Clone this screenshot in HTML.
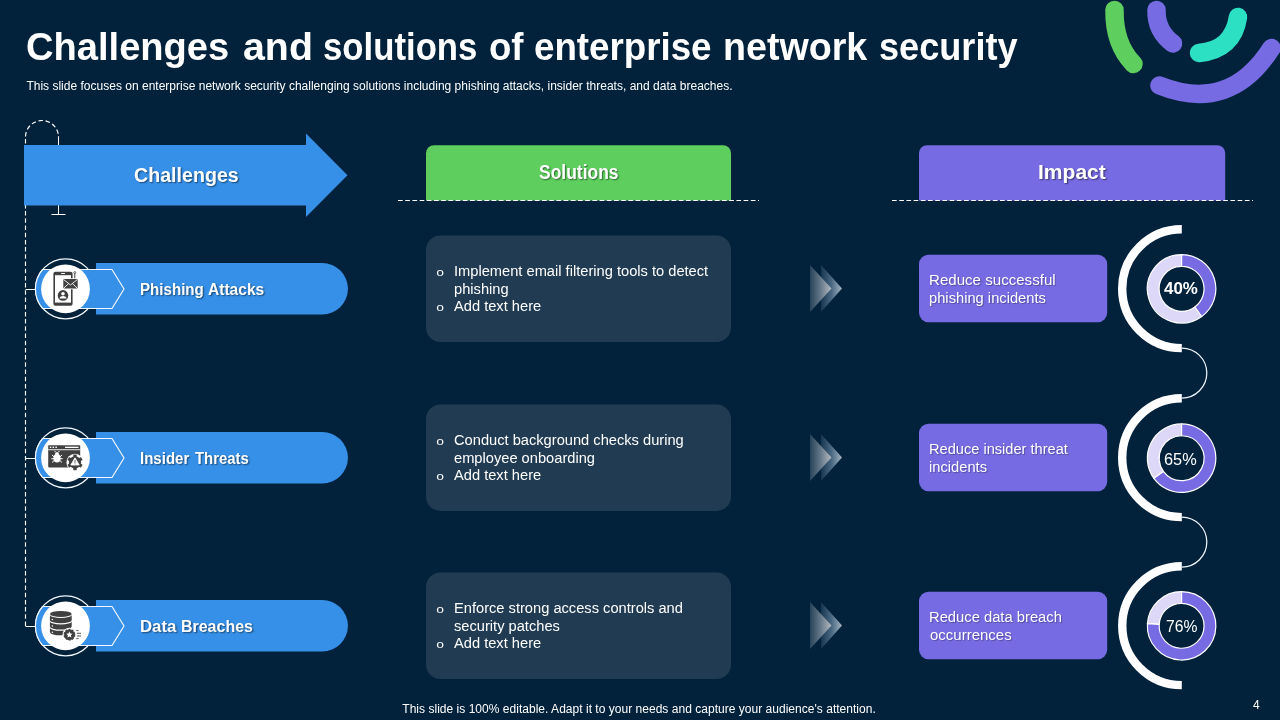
<!DOCTYPE html>
<html lang="en">
<head>
<meta charset="utf-8">
<title>Challenges and solutions of enterprise network security</title>
<style>
html,body{margin:0;padding:0;}
html{background:#02223b;}
body{will-change:transform;width:1280px;height:720px;overflow:hidden;background:#02223b;font-family:"Liberation Sans",sans-serif;color:#fff;position:relative;}
#shapes{position:absolute;left:0;top:0;width:1280px;height:720px;}
.t{position:absolute;white-space:nowrap;line-height:1;}
h1{margin:0;font-size:37px;font-weight:bold;line-height:1;}
.w{position:absolute;display:block;white-space:nowrap;line-height:1;font-weight:bold;transform-origin:0 0;}
.sub{left:26.400px;top:79px;font-size:12px;line-height:14px;letter-spacing:0.008px;}
.hd{text-shadow:1.200px 1.200px 1.500px rgba(0,0,0,.5);}
.sol{position:absolute;left:436px;width:290px;font-size:14.67px;line-height:17.5px;margin:0;padding:0;list-style:none;}
.sol li{position:relative;padding-left:18px;}
.sol li::before{content:"o";position:absolute;left:-0.500px;top:2.300px;font-family:"Liberation Mono",monospace;font-size:11px;transform:scaleX(1.250);transform-origin:0 0;}
.imp{text-shadow:1px 1px 1px rgba(0,0,0,.3);}
.pct{margin:0;}
.foot{left:402.300px;top:702px;font-size:12px;line-height:14px;letter-spacing:0.025px;}
.pg{left:1253px;top:698px;font-size:12px;line-height:14px;}
</style>
</head>
<body>
<svg id="shapes" width="1280" height="720" viewBox="0 0 1280 720">
<defs>
<linearGradient id="cg" x1="0" y1="0" x2="1" y2="0">
<stop offset="0" stop-color="#27435a"/>
<stop offset="0.5" stop-color="#66798a"/>
<stop offset="1" stop-color="#b6bcc2"/>
</linearGradient>
<linearGradient id="cg2" x1="0" y1="0" x2="1" y2="0">
<stop offset="0" stop-color="#16364f"/>
<stop offset="0.5" stop-color="#4a6881"/>
<stop offset="1" stop-color="#a3b3c2"/>
</linearGradient>
</defs>
<g fill="none" stroke-linecap="round" stroke-width="18.5">
<path d="M1114.500 10 Q1114 44 1133.500 64" stroke="#5ecf5e"/>
<path d="M1156.500 10 Q1156 31 1173 43.500" stroke="#776be3"/>
<path d="M1238 17 Q1233 50 1199 53" stroke="#2ce0c4"/>
<path d="M1159.500 85.500 Q1230 113.500 1271.500 48" stroke="#776be3"/>
</g>
<g fill="none" stroke="#ffffff" stroke-width="1">
<path d="M25.500 626 V137 A16.500 16.500 0 0 1 58.500 137" stroke-dasharray="4.500 2.700" stroke-width="1.150"/>
<path d="M58.500 136.500 V214 M51.500 214.500 H65.500"/>
</g>
<path d="M24 145 H306 V133.500 L347.500 175.250 L306 217 V205.500 H24 Z" fill="#3690e8"/>
<path d="M426 200.500 V153.200 a8 8 0 0 1 8 -8 H723 a8 8 0 0 1 8 8 V200.500 Z" fill="#5ecf5e"/>
<path d="M919 200.500 V153.200 a8 8 0 0 1 8 -8 H1217.200 a8 8 0 0 1 8 8 V200.500 Z" fill="#776be3"/>
<path d="M398 200.500 H759 M892 200.500 H1253" stroke="#ffffff" stroke-width="1.100" stroke-dasharray="4.700 2.500" fill="none"/>
<g>
<path d="M25.500 289.5 H35" stroke="#ffffff" stroke-width="1" fill="none"/>
<path d="M96 263.0 H322.200 a25.750 25.750 0 0 1 0 51.500 H96 Z" fill="#3690e8"/>
<circle cx="65.600" cy="288.8" r="30" fill="none" stroke="#f2f7fd" stroke-width="1.250"/>
<path d="M42.600 269.5 H112 L124 289.0 L112 308.5 H42.600 A30 30 0 0 1 42.600 269.5 Z" fill="#3690e8" stroke="#f2f7fd" stroke-width="1.200" stroke-linejoin="round"/>
<circle cx="65.500" cy="288.8" r="24.400" fill="#ffffff"/>
<g transform="translate(0,0)">
<rect x="53.4" y="271.8" width="19.2" height="34" rx="2" fill="#404040"/>
<rect x="55" y="275.2" width="16" height="27.4" fill="#ffffff"/>
<rect x="61" y="272.9" width="4" height="1.1" rx=".5" fill="#ffffff"/>
<circle cx="63" cy="295.4" r="5.3" fill="#404040"/>
<circle cx="63" cy="293.7" r="1.8" fill="#ffffff"/>
<path d="M59.6 298.6 a3.4 2.6 0 0 1 6.800 0 Z" fill="#ffffff"/>
<path d="M74.8 280 V273.500" stroke="#404040" stroke-width="1" fill="none"/>
<circle cx="74.8" cy="272.6" r="1" fill="none" stroke="#404040" stroke-width=".8"/>
<rect x="62.6" y="278.300" width="15.8" height="11" fill="#ffffff"/>
<rect x="63.3" y="279" width="14.4" height="9.6" rx=".8" fill="#404040"/>
<path d="M63.6 279.500 L70.5 285 L77.4 279.500 M63.6 288.300 L68.6 283.600 M77.4 288.300 L72.4 283.600" stroke="#ffffff" stroke-width=".9" fill="none"/>
</g>
<rect x="426" y="235.5" width="305" height="106.500" rx="14.500" fill="#213c52"/>
<path d="M821 265.0 L842 288.5 L821 312.0 Z" fill="url(#cg2)"/>
<path d="M810 265.0 L831.500 288.5 L810 312.0 Z" fill="url(#cg)"/>
<rect x="919" y="254.8" width="188.200" height="67.400" rx="9.500" fill="#776be3"/>
<path d="M1181.800 229.29999999999998 A59.600 59.400 0 0 0 1181.800 348.09999999999997" fill="none" stroke="#ffffff" stroke-width="8.400"/>
<path d="M1201.73 316.51 A34.25 34.25 0 1 1 1181.60 254.55 L1181.60 266.35 A22.45 22.45 0 1 0 1194.80 306.96 Z" fill="#ddd8f7" stroke="#ffffff" stroke-width="1.200" stroke-linejoin="round"/>
<path d="M1181.60 254.55 A34.25 34.25 0 0 1 1201.73 316.51 L1194.80 306.96 A22.45 22.45 0 0 0 1181.60 266.35 Z" fill="#776be3" stroke="#ffffff" stroke-width="1.200" stroke-linejoin="round"/>
</g>
<path d="M1181.800 348.09999999999997 A25 25 0 0 1 1181.800 398.09999999999997" fill="none" stroke="#eef4fb" stroke-width="1.250"/>
<g>
<path d="M25.500 458.5 H35" stroke="#ffffff" stroke-width="1" fill="none"/>
<path d="M96 432.0 H322.200 a25.750 25.750 0 0 1 0 51.500 H96 Z" fill="#3690e8"/>
<circle cx="65.600" cy="457.8" r="30" fill="none" stroke="#f2f7fd" stroke-width="1.250"/>
<path d="M42.600 438.5 H112 L124 458.0 L112 477.5 H42.600 A30 30 0 0 1 42.600 438.5 Z" fill="#3690e8" stroke="#f2f7fd" stroke-width="1.200" stroke-linejoin="round"/>
<circle cx="65.500" cy="457.8" r="24.400" fill="#ffffff"/>
<g>
<rect x="48.2" y="445.2" width="32" height="22.2" rx=".8" fill="#404040"/>
<rect x="48.2" y="449.3" width="32" height=".9" fill="#ffffff"/>
<rect x="49.8" y="446.6" width="1.5" height="1.400" fill="#ffffff"/><rect x="52.6" y="446.6" width="1.500" height="1.400" fill="#ffffff"/><rect x="55.4" y="446.6" width="1.500" height="1.400" fill="#ffffff"/>
<rect x="65" y="446.700" width="13.5" height="1.300" fill="#ffffff"/>
<ellipse cx="57" cy="458.3" rx="3.6" ry="4.3" fill="#ffffff"/>
<circle cx="57" cy="453.8" r="1.9" fill="#ffffff"/>
<path d="M52 455 L54 456.800 M51.3 458.700 H54 M52 462.500 L54 460.600 M62 455 L60 456.800 M62.7 458.700 H60 M62 462.500 L60 460.600 M55.500 452 L54.600 450.900 M58.500 452 L59.400 450.900" stroke="#ffffff" stroke-width="1" fill="none"/>
<circle cx="75" cy="462.400" r="8.600" fill="#ffffff"/>
<circle cx="75" cy="462.400" r="6.100" fill="#404040"/>
<g fill="#404040">
<rect x="73.3" y="454.600" width="3.400" height="15.600" rx=".5"/>
<rect x="73.3" y="454.600" width="3.400" height="15.600" rx=".5" transform="rotate(60 75 462.400)"/>
<rect x="73.3" y="454.600" width="3.400" height="15.600" rx=".5" transform="rotate(120 75 462.400)"/>
</g>
<path d="M75 457.800 L79.200 465 H70.800 Z" fill="#ffffff" stroke="#ffffff" stroke-width=".8" stroke-linejoin="round"/>
<rect x="74.6" y="460" width=".8" height="2.800" fill="#404040"/><rect x="74.6" y="463.500" width=".8" height=".8" fill="#404040"/>
</g>
<rect x="426" y="404.5" width="305" height="106.500" rx="14.500" fill="#213c52"/>
<path d="M821 434.0 L842 457.5 L821 481.0 Z" fill="url(#cg2)"/>
<path d="M810 434.0 L831.500 457.5 L810 481.0 Z" fill="url(#cg)"/>
<rect x="919" y="423.8" width="188.200" height="67.400" rx="9.500" fill="#776be3"/>
<path d="M1181.800 398.3 A59.600 59.400 0 0 0 1181.800 517.1" fill="none" stroke="#ffffff" stroke-width="8.400"/>
<path d="M1153.89 478.33 A34.25 34.25 0 0 1 1181.60 423.95 L1181.60 435.75 A22.45 22.45 0 0 0 1163.44 471.40 Z" fill="#ddd8f7" stroke="#ffffff" stroke-width="1.200" stroke-linejoin="round"/>
<path d="M1181.60 423.95 A34.25 34.25 0 1 1 1153.89 478.33 L1163.44 471.40 A22.45 22.45 0 1 0 1181.60 435.75 Z" fill="#776be3" stroke="#ffffff" stroke-width="1.200" stroke-linejoin="round"/>
</g>
<path d="M1181.800 517.1 A25 25 0 0 1 1181.800 567.1" fill="none" stroke="#eef4fb" stroke-width="1.250"/>
<g>
<path d="M25.500 626.5 H35" stroke="#ffffff" stroke-width="1" fill="none"/>
<path d="M96 600.0 H322.200 a25.750 25.750 0 0 1 0 51.500 H96 Z" fill="#3690e8"/>
<circle cx="65.600" cy="625.8" r="30" fill="none" stroke="#f2f7fd" stroke-width="1.250"/>
<path d="M42.600 606.5 H112 L124 626.0 L112 645.5 H42.600 A30 30 0 0 1 42.600 606.5 Z" fill="#3690e8" stroke="#f2f7fd" stroke-width="1.200" stroke-linejoin="round"/>
<circle cx="65.500" cy="625.8" r="24.400" fill="#ffffff"/>
<g>
<ellipse cx="60.800" cy="613.900" rx="10.900" ry="3" fill="#404040"/>
<path d="M49.900 615 A10.900 3 0 0 0 71.700 615 V620.200 A10.900 3 0 0 1 49.900 620.200 Z" fill="#404040"/>
<path d="M49.900 621.400 A10.900 3 0 0 0 71.700 621.400 V626.600 A10.900 3 0 0 1 49.900 626.600 Z" fill="#404040"/>
<path d="M49.900 627.800 A10.900 3 0 0 0 71.700 627.800 V632.300 A10.900 3 0 0 1 49.900 632.300 Z" fill="#404040"/>
<circle cx="52.400" cy="619.600" r=".75" fill="#ffffff"/><circle cx="52.400" cy="626" r=".75" fill="#ffffff"/><circle cx="52.400" cy="632.200" r=".75" fill="#ffffff"/>
<circle cx="69.400" cy="634.700" r="6.900" fill="#ffffff"/>
<circle cx="69.400" cy="634.700" r="5.300" fill="#404040" stroke="#404040" stroke-width="1.200" stroke-dasharray="2.200 1.130"/>
<path d="M69.400 631.500 l.95 2 2.150.28 -1.580 1.500.4 2.150 -1.920 -1.050 -1.920 1.050.4 -2.150 -1.580 -1.500 2.150 -.28 Z" fill="#ffffff"/>
<path d="M76.300 630.600 H78.600 M76.800 633.300 H81 M76.800 636 H81 M76.300 638.600 H78.600" stroke="#404040" stroke-width=".9" fill="none"/>
</g>
<rect x="426" y="572.5" width="305" height="106.500" rx="14.500" fill="#213c52"/>
<path d="M821 602.0 L842 625.5 L821 649.0 Z" fill="url(#cg2)"/>
<path d="M810 602.0 L831.500 625.5 L810 649.0 Z" fill="url(#cg)"/>
<rect x="919" y="591.8" width="188.200" height="67.400" rx="9.500" fill="#776be3"/>
<path d="M1181.800 566.3000000000001 A59.600 59.400 0 0 0 1181.800 685.1" fill="none" stroke="#ffffff" stroke-width="8.400"/>
<path d="M1147.42 623.65 A34.25 34.25 0 0 1 1181.60 591.55 L1181.60 603.35 A22.45 22.45 0 0 0 1159.19 624.39 Z" fill="#ddd8f7" stroke="#ffffff" stroke-width="1.200" stroke-linejoin="round"/>
<path d="M1181.60 591.55 A34.25 34.25 0 1 1 1147.42 623.65 L1159.19 624.39 A22.45 22.45 0 1 0 1181.60 603.35 Z" fill="#776be3" stroke="#ffffff" stroke-width="1.200" stroke-linejoin="round"/>
</g>
</svg>
<h1><span class="w" style="left:25.92px;top:28px;font-size:38.5px;transform:scaleX(0.9894);">Challenges</span> <span class="w" style="left:242.58px;top:28px;font-size:38.5px;transform:scaleX(1.0215);">and</span> <span class="w" style="left:322.65px;top:28px;font-size:38.5px;transform:scaleX(0.9024);">solutions</span> <span class="w" style="left:488.57px;top:28px;font-size:38.5px;transform:scaleX(0.9514);">of</span> <span class="w" style="left:533.57px;top:28px;font-size:38.5px;transform:scaleX(0.9537);">enterprise</span> <span class="w" style="left:722.86px;top:28px;font-size:38.5px;transform:scaleX(0.9772);">network</span> <span class="w" style="left:878.59px;top:28px;font-size:38.5px;transform:scaleX(0.9384);">security</span></h1>
<div class="t sub">This slide focuses on enterprise network security challenging solutions including phishing attacks, insider threats, and data breaches.</div>

<div class="hd"><span class="w" style="left:134.01px;top:165px;font-size:20px;transform:scaleX(0.9819);">Challenges</span></div>
<div class="hd"><span class="w" style="left:539.31px;top:162px;font-size:20px;transform:scaleX(0.8730);">Solutions</span></div>
<div class="hd"><span class="w" style="left:1038.44px;top:162px;font-size:20px;transform:scaleX(1.0516);">Impact</span></div>

<div class="hd"><span class="w" style="left:139.65px;top:282px;font-size:16px;transform:scaleX(0.9450);">Phishing</span> <span class="w" style="left:208.26px;top:282px;font-size:16px;transform:scaleX(0.9736);">Attacks</span></div>
<div class="hd"><span class="w" style="left:139.66px;top:451px;font-size:16px;transform:scaleX(0.9395);">Insider</span> <span class="w" style="left:194.77px;top:451px;font-size:16px;transform:scaleX(0.9316);">Threats</span></div>
<div class="hd"><span class="w" style="left:139.55px;top:619px;font-size:16px;transform:scaleX(1.0489);">Data</span> <span class="w" style="left:180.90px;top:619px;font-size:16px;transform:scaleX(0.9979);">Breaches</span></div>

<ul class="sol" style="top:263px;"><li>Implement email filtering tools to detect phishing</li><li>Add text here</li></ul>
<ul class="sol" style="top:432px;"><li>Conduct background checks during employee onboarding</li><li>Add text here</li></ul>
<ul class="sol" style="top:600px;"><li>Enforce strong access controls and security patches</li><li>Add text here</li></ul>

<div class="imp"><span class="w" style="left:928.91px;top:273px;font-size:14.67px;transform:scaleX(1.0294);font-weight:normal;">Reduce successful</span> <span class="w" style="left:929.20px;top:291px;font-size:14.67px;transform:scaleX(1.0035);font-weight:normal;">phishing incidents</span></div>
<div class="imp"><span class="w" style="left:928.95px;top:442px;font-size:14.67px;transform:scaleX(0.9971);font-weight:normal;">Reduce insider threat</span> <span class="w" style="left:929.20px;top:460px;font-size:14.67px;transform:scaleX(1.0027);font-weight:normal;">incidents</span></div>
<div class="imp"><span class="w" style="left:928.94px;top:610px;font-size:14.67px;transform:scaleX(1.0066);font-weight:normal;">Reduce data breach</span> <span class="w" style="left:929.69px;top:628px;font-size:14.67px;transform:scaleX(1.0235);font-weight:normal;">occurrences</span></div>

<div class="pct"><span class="w" style="left:1163.74px;top:280px;font-size:16.4px;transform:scaleX(1.0310);">40%</span><span class="w" style="left:1164.23px;top:452px;font-size:15.8px;transform:scaleX(1.0331);font-weight:normal;">65%</span><span class="w" style="left:1165.51px;top:619px;font-size:15.8px;transform:scaleX(0.9917);font-weight:normal;">76%</span></div>

<div class="t foot">This slide is 100% editable. Adapt it to your needs and capture your audience's attention.</div>
<div class="t pg">4</div>
</body>
</html>
